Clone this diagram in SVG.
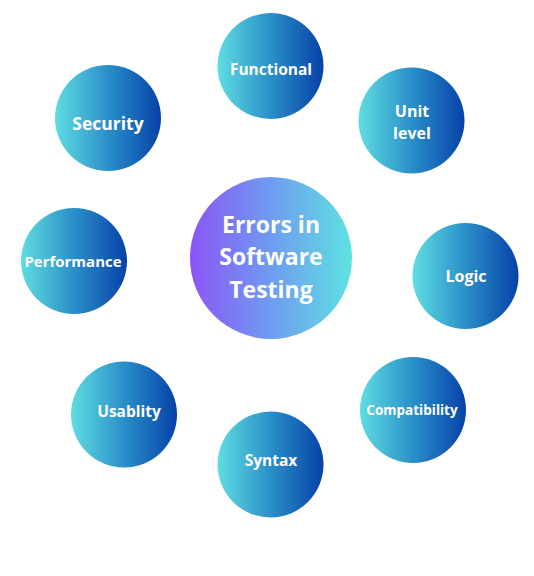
<svg xmlns="http://www.w3.org/2000/svg" width="534" height="576" viewBox="0 0 534 576">
<defs>
<linearGradient id="gb" x1="0" y1="0" x2="1" y2="0">
<stop offset="0" stop-color="#5fdde2"/>
<stop offset="0.5" stop-color="#2a8fc8"/>
<stop offset="1" stop-color="#0642a8"/>
</linearGradient>
<linearGradient id="gc" x1="0" y1="0" x2="1" y2="0">
<stop offset="0" stop-color="#8b55f7"/>
<stop offset="0.5" stop-color="#6f9cf0"/>
<stop offset="1" stop-color="#5ee2e2"/>
</linearGradient>
<style>
.n{fill:url(#gb)}
.t{font-family:"Open Sans","Liberation Sans",sans-serif;font-weight:bold;fill:#ffffff;text-anchor:middle}
.c{fill:url(#gc)}
</style>
</defs>
<rect width="534" height="576" fill="#ffffff"/>
<g id="connectors"/>
<g id="center">
<circle class="c" cx="271" cy="258" r="81"/>
<text class="t" x="271" y="233" font-size="23">Errors in</text>
<text class="t" x="271" y="265" font-size="23">Software</text>
<text class="t" x="271" y="298" font-size="23">Testing</text>
</g>
<g id="functional">
<circle class="n" cx="270.5" cy="66" r="53"/>
<text class="t" x="271" y="75" font-size="15.5">Functional</text>
</g>
<g id="unit-level">
<circle class="n" cx="411.5" cy="120.5" r="53"/>
<text class="t" x="412" y="117" font-size="16">Unit</text>
<text class="t" x="412" y="139" font-size="16">level</text>
</g>
<g id="security">
<circle class="n" cx="108" cy="118" r="53"/>
<text class="t" x="108" y="130" font-size="17.5">Security</text>
</g>
<g id="performance">
<circle class="n" cx="74" cy="261" r="53"/>
<text class="t" x="73" y="267" font-size="15">Performance</text>
</g>
<g id="logic">
<circle class="n" cx="465.5" cy="276" r="53"/>
<text class="t" x="466" y="282" font-size="16">Logic</text>
</g>
<g id="compatibility">
<circle class="n" cx="413" cy="410" r="53"/>
<text class="t" x="412" y="415" font-size="13.5">Compatibility</text>
</g>
<g id="usablity">
<circle class="n" cx="124" cy="414.5" r="53"/>
<text class="t" x="129" y="417" font-size="15.5">Usablity</text>
</g>
<g id="syntax">
<circle class="n" cx="270.5" cy="464.5" r="53"/>
<text class="t" x="271" y="466" font-size="15.5">Syntax</text>
</g>
</svg>
